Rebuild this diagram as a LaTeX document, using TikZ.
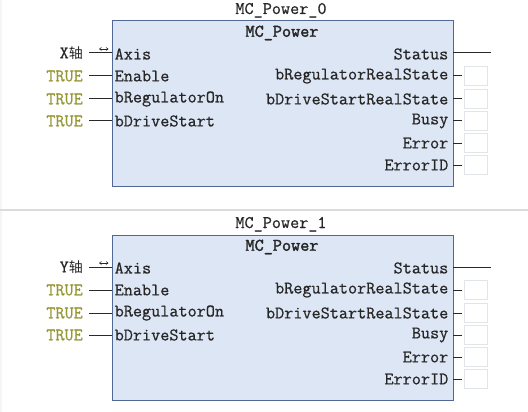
\documentclass[tikz,border=0pt]{standalone}
\usepackage{fontspec}
\newfontfamily\fbmono{Latin Modern Mono}[FakeBold=0.6]
\newfontfamily\fbmonob{Latin Modern Mono}[FakeBold=2]
\newfontfamily\cjk{Noto Sans CJK SC}
\usetikzlibrary{arrows.meta}
\definecolor{boxfill}{RGB}{221,230,245}
\definecolor{boxline}{RGB}{80,104,150}
\definecolor{truecol}{RGB}{150,150,50}
\definecolor{wirecol}{RGB}{40,40,40}
\definecolor{outbox}{RGB}{225,228,232}
\tikzset{
  x=1pt, y=-1pt,
  fbtext/.style={font=\fontsize{17.7}{20}\selectfont\fbmono, inner sep=0pt, text=black!85},
  fbbox/.style={draw=boxline, fill=boxfill, line width=1pt},
  wire/.style={draw=wirecol, line width=1pt},
  tval/.style={fbtext, text=truecol, anchor=east},
  pinname/.style={fbtext},
  outcell/.style={draw=outbox, fill=white, line width=0.8pt, minimum width=23pt, minimum height=19pt, inner sep=0pt},
}
\newcommand{\fbblock}[4]{% #1 offset, #2 suffix, #3 instance, #4 axis char
  \begin{scope}[yshift=-#1pt]
  \node[fbtext, anchor=base] (title#2) at (281,14) {#3};
  \node[fbbox, minimum width=341pt, minimum height=165pt, inner sep=0pt] (box#2) at (282.5,103.5) {};
  \node[fbtext, font=\fontsize{17.7}{20}\selectfont\fbmonob] (type#2) at (282,33) {MC\_Power};
  % inputs
  \node[fbtext, anchor=east] (vax#2) at (83,53) {#4{\cjk\fontsize{14}{16}\selectfont 轴}};
  \node[tval] (ven#2) at (83,76) {TRUE};
  \node[tval] (vro#2) at (83,99) {TRUE};
  \node[tval] (vds#2) at (83,121) {TRUE};
  \node[pinname, anchor=west] (iax#2) at (114.5,54) {Axis};
  \node[pinname, anchor=west] (ien#2) at (114.5,76) {Enable};
  \node[pinname, anchor=west] (iro#2) at (114.5,99) {bRegulatorOn};
  \node[pinname, anchor=west] (ids#2) at (114.5,121) {bDriveStart};
  \coordinate (pax#2) at (112,53);
  \coordinate (pen#2) at (112,76);
  \coordinate (pro#2) at (112,99);
  \coordinate (pds#2) at (112,121);
  \draw[wire] ([xshift=6pt]vax#2.east) -- (pax#2);
  \draw[wire] ([xshift=6pt]ven#2.east) -- (pen#2);
  \draw[wire] ([xshift=6pt]vro#2.east) -- (pro#2);
  \draw[wire] ([xshift=6pt]vds#2.east) -- (pds#2);
  \draw[wirecol, line width=0.6pt, {Straight Barb[length=2pt,width=3pt]}-{Straight Barb[length=2pt,width=3pt]}] (99,49) -- (108.5,49);
  % outputs
  \node[pinname, anchor=east] (ost#2) at (448.5,54) {Status};
  \node[pinname, anchor=east] (orr#2) at (448.5,76) {bRegulatorRealState};
  \node[pinname, anchor=east] (odr#2) at (448.5,99) {bDriveStartRealState};
  \node[pinname, anchor=east] (obu#2) at (448.5,121) {Busy};
  \node[pinname, anchor=east] (oer#2) at (448.5,143) {Error};
  \node[pinname, anchor=east] (oid#2) at (448.5,165) {ErrorID};
  \coordinate (qst#2) at (453,53);
  \coordinate (qrr#2) at (453,76);
  \coordinate (qdr#2) at (453,99);
  \coordinate (qbu#2) at (453,121);
  \coordinate (qer#2) at (453,143);
  \coordinate (qid#2) at (453,165);
  \coordinate (est#2) at (491,53);
  \node[outcell] (crr#2) at (475.5,76) {};
  \node[outcell] (cdr#2) at (475.5,99) {};
  \node[outcell] (cbu#2) at (475.5,121) {};
  \node[outcell] (cer#2) at (475.5,143) {};
  \node[outcell] (cid#2) at (475.5,165) {};
  \draw[wire] (qst#2) -- (est#2);
  \draw[wire] (qrr#2) -- ([xshift=-1.5pt]crr#2.west);
  \draw[wire] (qdr#2) -- ([xshift=-1.5pt]cdr#2.west);
  \draw[wire] (qbu#2) -- ([xshift=-1.5pt]cbu#2.west);
  \draw[wire] (qer#2) -- ([xshift=-1.5pt]cer#2.west);
  \draw[wire] (qid#2) -- ([xshift=-1.5pt]cid#2.west);
  \end{scope}
}
\begin{document}
\begin{tikzpicture}
\fill[white] (0,0) rectangle (528,412);
\useasboundingbox (0,0) rectangle (528,412);
\draw[black!4, line width=2pt] (1,0) -- (1,412);
\fbblock{0}{a}{MC\_Power\_0}{X}
\draw[black!14, line width=1.5pt] (0,210) -- (528,210);
\fbblock{214}{b}{MC\_Power\_1}{Y}
\end{tikzpicture}
\end{document}
